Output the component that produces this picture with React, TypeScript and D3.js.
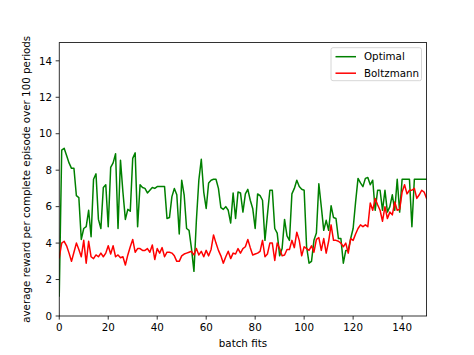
import React from "react";
import * as d3 from "d3";

const optimal: number[] = [
  1.1, 9.1, 9.2, 8.8, 8.4, 8.1, 8.1, 6.6, 6.5, 4.2,
  4.8, 4.9, 5.8, 4.35, 7.5, 7.8, 5.3, 4.8, 7.05, 7.2,
  4.9, 8.15, 8.4, 8.9, 4.8, 8.55, 6.8, 5.3, 5.85, 5.75,
  8.65, 8.95, 4.9, 7.2, 7.05, 7.0, 6.75, 6.9, 7.05, 7.0,
  7.1, 7.1, 7.1, 7.1, 5.35, 5.4, 6.55, 7.0, 6.65, 4.5,
  7.45, 6.65, 4.8, 4.7, 3.7, 2.45, 5.25, 7.45, 8.6, 6.8,
  5.9, 7.3, 7.45, 7.5, 7.5, 7.0, 5.95, 5.85, 6.0, 5.8,
  5.1, 6.75, 5.35, 6.8, 6.75, 5.7, 6.7, 6.95, 6.35, 5.9,
  4.8, 6.7, 6.6, 6.35, 4.15, 5.55, 6.9, 6.9, 4.8, 4.55,
  3.3, 3.7, 5.3, 4.4, 4.15, 6.7, 7.0, 7.45, 7.1, 6.95,
  6.9, 3.8, 2.9, 3.0, 4.15, 4.55, 7.25, 6.0, 4.7, 5.25,
  4.7, 6.05, 5.4, 5.35, 4.25, 4.25, 2.9, 3.6, 3.6, 4.25,
  4.8, 6.25, 7.55, 7.3, 7.1, 7.55, 7.6, 7.2, 7.45, 5.8,
  6.9, 6.9, 5.8, 6.9, 5.7, 6.0, 6.65, 5.8, 7.5, 5.7,
  7.5, 7.5, 7.5, 7.5, 4.9, 7.5, 7.5, 7.5, 7.5, 7.5,
  7.5,
];

const boltzmann: number[] = [
  3.2, 4.0, 4.1, 3.85, 3.45, 3.0, 3.5, 4.0, 3.65, 3.25,
  4.15, 2.9, 4.1, 3.25, 3.15, 3.35, 3.25, 3.45, 3.25, 3.45,
  3.85, 3.4, 3.85, 3.25, 3.35, 3.2, 3.25, 2.8, 3.35, 3.8,
  4.2, 3.5, 3.7, 3.7, 3.6, 3.6, 3.7, 3.5, 3.9, 3.1,
  3.7, 3.45, 3.75, 3.25, 3.5, 3.5, 3.45, 3.3, 3.0, 3.0,
  3.3, 3.4, 3.45, 3.5, 3.55, 3.35, 3.7, 3.35, 3.55, 3.25,
  3.6, 3.3, 3.65, 4.45, 4.0, 3.6, 3.3, 2.9, 3.25, 3.55,
  3.15, 3.45, 3.4, 3.7, 3.45, 3.7, 3.8, 4.2, 3.75, 3.35,
  3.4, 3.45, 3.55, 4.15, 3.25, 3.4, 4.0, 4.0, 3.05, 4.0,
  3.7, 3.3, 3.35, 3.65, 3.65, 4.15, 3.75, 4.6, 4.15, 3.3,
  3.8, 3.7, 3.6, 3.85, 3.5, 4.2, 4.3, 3.6, 4.25, 3.45,
  4.1, 5.0, 4.15, 4.15, 4.1, 4.0, 3.8, 4.0, 3.45, 4.25,
  4.15, 4.5, 4.8, 5.0, 4.9, 5.0, 4.9, 6.2, 5.8, 6.45,
  6.1, 5.8, 5.2, 6.0, 5.35, 5.7, 5.55, 6.25, 5.8, 5.85,
  6.8, 7.2, 6.7, 6.9, 6.9, 7.0, 6.45, 6.65, 6.9, 6.8,
  6.45,
];

const xTicks = [0, 20, 40, 60, 80, 100, 120, 140];
const yTicks = [0, 2, 4, 6, 8, 10, 12, 14];
const seriesNames = ["Optimal", "Boltzmann"];
const seriesColors = ["#008000", "#ff0000"];

const W = 474;
const H = 355;
const left = 59.25;
const right = 426.6;
const top = 42.6;
const bottom = 316;

export default function App() {
  const x = d3.scaleLinear().domain([0, 150]).range([left, right]);
  const y = d3.scaleLinear().domain([0, 15]).range([bottom, top]);
  const line = d3
    .line<number>()
    .x((_, i) => x(i))
    .y((d) => y(d));
  const series = [optimal, boltzmann];
  const font = "DejaVu Sans, sans-serif";
  const fs = 10.3;
  const legX = 331;
  const legY = 47.7;
  const legW = 421.5 - legX;
  const legH = 33;

  return (
    <svg
      width={W}
      height={H}
      style={{ position: "absolute", left: 0, top: 0, background: "#fff" }}
      fontFamily={font}
    >
      <defs>
        <clipPath id="plotclip">
          <rect x={left} y={top} width={right - left} height={bottom - top} />
        </clipPath>
      </defs>
      <g clipPath="url(#plotclip)">
        {series.map((s, k) => (
          <path
            key={k}
            d={line(s) || ""}
            fill="none"
            stroke={seriesColors[k]}
            strokeWidth={1.5}
            strokeLinejoin="round"
            strokeLinecap="square"
          />
        ))}
      </g>
      <rect
        x={left}
        y={top}
        width={right - left}
        height={bottom - top}
        fill="none"
        stroke="#000"
        strokeWidth={0.8}
      />
      {xTicks.map((t) => (
        <g key={"x" + t}>
          <line x1={x(t)} x2={x(t)} y1={bottom} y2={bottom + 3.6} stroke="#000" strokeWidth={0.8} />
          <text x={x(t)} y={bottom + 7.4} dy="0.76em" textAnchor="middle" fontSize={fs} fill="#000">
            {t}
          </text>
        </g>
      ))}
      {yTicks.map((t) => (
        <g key={"y" + t}>
          <line x1={left - 3.6} x2={left} y1={y(t)} y2={y(t)} stroke="#000" strokeWidth={0.8} />
          <text x={left - 7.2} y={y(t)} dy="0.36em" textAnchor="end" fontSize={fs} fill="#000">
            {t}
          </text>
        </g>
      ))}
      <text x={(left + right) / 2} y={347} textAnchor="middle" fontSize={fs} fill="#000">
        batch fits
      </text>
      <text
        transform={`translate(${30},${(top + bottom) / 2}) rotate(-90)`}
        textAnchor="middle"
        fontSize={fs}
        fill="#000"
      >
        average reward per complete episode over 100 periods
      </text>
      <g>
        <rect
          x={legX}
          y={legY}
          width={legW}
          height={legH}
          rx={2}
          ry={2}
          fill="#fff"
          fillOpacity={0.8}
          stroke="#cccccc"
          strokeWidth={0.8}
        />
        {seriesNames.map((n, k) => {
          const ry = legY + 9 + k * 16.5;
          return (
            <g key={n}>
              <line x1={legX + 4.5} x2={legX + 25} y1={ry} y2={ry} stroke={seriesColors[k]} strokeWidth={1.5} />
              <text x={legX + 33} y={ry} dy="0.36em" fontSize={fs} fill="#000">
                {n}
              </text>
            </g>
          );
        })}
      </g>
    </svg>
  );
}
